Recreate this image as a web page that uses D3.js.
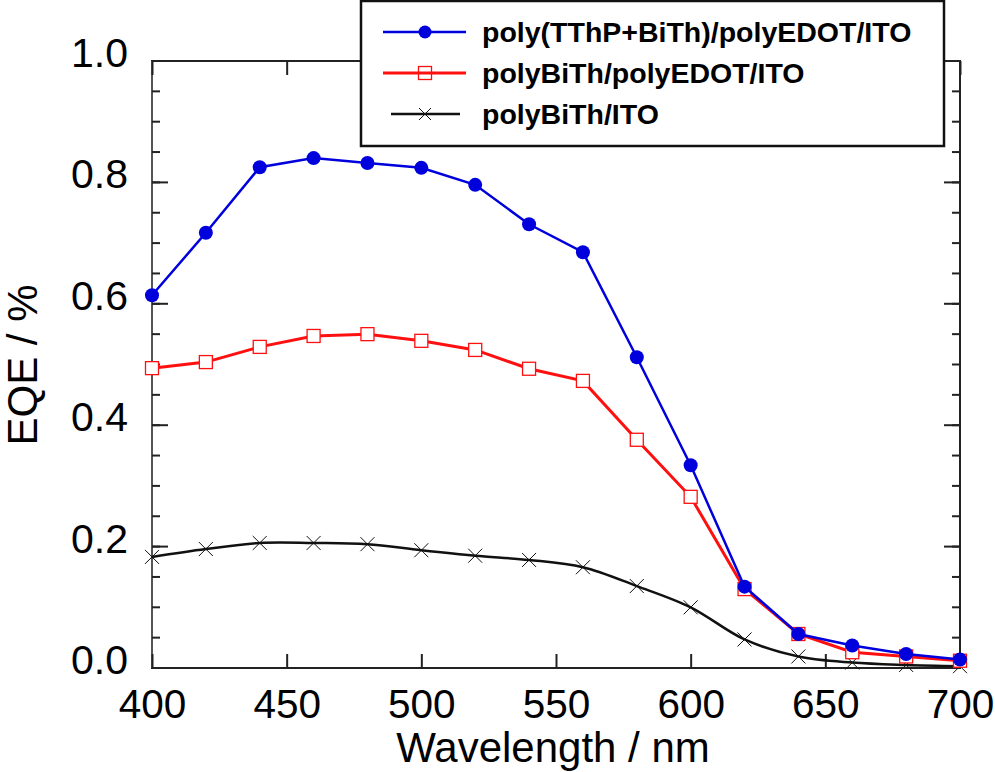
<!DOCTYPE html>
<html>
<head>
<meta charset="utf-8">
<script src="https://cdn.jsdelivr.net/npm/d3@7"></script>
<style>
  body { margin: 0; background: #fff; }
  svg { display: block; font-family: "Liberation Sans", Arial, sans-serif; }
</style>
</head>
<body>
<div id="chart"></div>
<script>
// wavelengths (nm)
let wavelength = [400, 420, 440, 460, 480, 500, 520, 540, 560, 580, 600, 620, 640, 660, 680, 700];

// EQE values
let eqeBlend = [0.614, 0.717, 0.825, 0.840, 0.832, 0.824, 0.796, 0.731, 0.685, 0.512, 0.334, 0.134, 0.056, 0.037, 0.023, 0.014];
let eqeBiThEdot = [0.494, 0.504, 0.529, 0.547, 0.550, 0.539, 0.524, 0.493, 0.473, 0.376, 0.282, 0.130, 0.056, 0.026, 0.019, 0.012];
let eqeBiTh = [0.183, 0.196, 0.206, 0.206, 0.204, 0.194, 0.185, 0.178, 0.166, 0.135, 0.100, 0.047, 0.019, 0.009, 0.005, 0.003];

let seriesNames = ["poly(TThP+BiTh)/polyEDOT/ITO", "polyBiTh/polyEDOT/ITO", "polyBiTh/ITO"];

let xTicks = [400, 450, 500, 550, 600, 650, 700];
let yTicks = [0.0, 0.2, 0.4, 0.6, 0.8, 1.0];
let yMinorTicks = d3.range(0, 1.0001, 0.05);

let width = 995;
let height = 772;
let plotLeft = 152, plotRight = 960, plotTop = 61, plotBottom = 668;

let svg = d3.select("#chart")
    .append("svg")
    .attr("width", width)
    .attr("height", height);

let xScale = d3.scaleLinear().domain([400, 700]).range([plotLeft, plotRight]);
let yScale = d3.scaleLinear().domain([0, 1]).range([plotBottom, plotTop]);

// frame
svg.append("rect")
    .attr("x", plotLeft).attr("y", plotTop)
    .attr("width", plotRight - plotLeft).attr("height", plotBottom - plotTop)
    .attr("fill", "none").attr("stroke", "#222").attr("stroke-width", 2);
// left axis line is a bit greyer in the original
svg.append("line")
    .attr("x1", plotLeft).attr("x2", plotLeft).attr("y1", plotTop).attr("y2", plotBottom)
    .attr("stroke", "#555").attr("stroke-width", 2);

// x ticks, inward, bottom and top
let xAxisBottom = d3.axisBottom(xScale).tickValues(xTicks).tickSize(-14).tickFormat(d3.format("d"));
let gx = svg.append("g")
    .attr("transform", "translate(0," + plotBottom + ")")
    .call(xAxisBottom);
gx.select(".domain").remove();
gx.selectAll(".tick line").attr("stroke", "#222").attr("stroke-width", 2);
gx.selectAll(".tick text").attr("font-size", 40.5).attr("fill", "#000").attr("font-family", "Liberation Sans, Arial, sans-serif")
    .attr("y", 50).attr("dy", 0);

let gxTop = svg.append("g")
    .attr("transform", "translate(0," + plotTop + ")")
    .call(d3.axisTop(xScale).tickValues(xTicks).tickSize(-14).tickFormat(""));
gxTop.select(".domain").remove();
gxTop.selectAll(".tick line").attr("stroke", "#222").attr("stroke-width", 2);

// y ticks: minor then major, left and right
function yTicksSide(x, dir) {
    let g = svg.append("g");
    g.selectAll("line.minor")
        .data(yMinorTicks)
        .enter().append("line")
        .attr("class", "minor")
        .attr("x1", x).attr("x2", x + dir * 8)
        .attr("y1", d => yScale(d)).attr("y2", d => yScale(d))
        .attr("stroke", "#222").attr("stroke-width", 2);
    g.selectAll("line.major")
        .data(yTicks)
        .enter().append("line")
        .attr("class", "major")
        .attr("x1", x).attr("x2", x + dir * 16)
        .attr("y1", d => yScale(d)).attr("y2", d => yScale(d))
        .attr("stroke", "#222").attr("stroke-width", 2);
}
yTicksSide(plotLeft, 1);
yTicksSide(plotRight, -1);

svg.append("g").selectAll("text")
    .data(yTicks)
    .enter().append("text")
    .attr("x", 128)
    .attr("y", d => yScale(d) + 6)
    .attr("text-anchor", "end")
    .attr("font-size", 41)
    .text(d => d3.format(".1f")(d));

// axis labels
svg.append("text")
    .attr("x", 553).attr("y", 762)
    .attr("text-anchor", "middle")
    .attr("font-size", 42)
    .text("Wavelength / nm");

svg.append("text")
    .attr("transform", "translate(37,365) rotate(-90)")
    .attr("text-anchor", "middle")
    .attr("font-size", 42)
    .text("EQE / %");

// series
let blue = "#0000dd", red = "#ff1010", black = "#111";

let lineStraight = d3.line()
    .x((d, i) => xScale(wavelength[i]))
    .y(d => yScale(d));
let lineSmooth = d3.line()
    .x((d, i) => xScale(wavelength[i]))
    .y(d => yScale(d))
    .curve(d3.curveCatmullRom.alpha(0.5));

// black (smoothed)
svg.append("path").datum(eqeBiTh)
    .attr("d", lineSmooth).attr("fill", "none")
    .attr("stroke", black).attr("stroke-width", 2.5);
function drawCross(g, cx, cy, s) {
    g.append("line").attr("x1", cx - s).attr("y1", cy - s).attr("x2", cx + s).attr("y2", cy + s)
        .attr("stroke", black).attr("stroke-width", 1);
    g.append("line").attr("x1", cx - s).attr("y1", cy + s).attr("x2", cx + s).attr("y2", cy - s)
        .attr("stroke", black).attr("stroke-width", 1);
}
let gCross = svg.append("g");
eqeBiTh.forEach((d, i) => drawCross(gCross, xScale(wavelength[i]), yScale(d), 7));

// red
svg.append("path").datum(eqeBiThEdot)
    .attr("d", lineStraight).attr("fill", "none")
    .attr("stroke", red).attr("stroke-width", 3);
svg.append("g").selectAll("rect")
    .data(eqeBiThEdot)
    .enter().append("rect")
    .attr("x", (d, i) => xScale(wavelength[i]) - 6.5)
    .attr("y", d => yScale(d) - 6.5)
    .attr("width", 13).attr("height", 13)
    .attr("fill", "#fff").attr("stroke", red).attr("stroke-width", 1.3);

// blue
svg.append("path").datum(eqeBlend)
    .attr("d", lineStraight).attr("fill", "none")
    .attr("stroke", blue).attr("stroke-width", 2.5);
svg.append("g").selectAll("circle")
    .data(eqeBlend)
    .enter().append("circle")
    .attr("cx", (d, i) => xScale(wavelength[i]))
    .attr("cy", d => yScale(d))
    .attr("r", 7)
    .attr("fill", blue);

// legend
let lg = svg.append("g");
lg.append("rect")
    .attr("x", 361).attr("y", 1)
    .attr("width", 583).attr("height", 145)
    .attr("fill", "#fff").attr("stroke", "#111").attr("stroke-width", 2.5);

let legendY = [32, 73, 114];
// blue entry
lg.append("line").attr("x1", 383).attr("x2", 466).attr("y1", legendY[0]).attr("y2", legendY[0])
    .attr("stroke", blue).attr("stroke-width", 2.5);
lg.append("circle").attr("cx", 425).attr("cy", legendY[0]).attr("r", 6.5).attr("fill", blue);
// red entry
lg.append("line").attr("x1", 383).attr("x2", 466).attr("y1", legendY[1]).attr("y2", legendY[1])
    .attr("stroke", red).attr("stroke-width", 3);
lg.append("rect").attr("x", 418.5).attr("y", legendY[1] - 6.5).attr("width", 13).attr("height", 13)
    .attr("fill", "none").attr("stroke", red).attr("stroke-width", 1.3);
// black entry
lg.append("line").attr("x1", 391).attr("x2", 460).attr("y1", legendY[2]).attr("y2", legendY[2])
    .attr("stroke", black).attr("stroke-width", 2.5);
drawCross(lg, 425, legendY[2], 6);

lg.selectAll("text")
    .data(seriesNames)
    .enter().append("text")
    .attr("x", 482)
    .attr("y", (d, i) => legendY[i] + 10)
    .attr("font-size", 28.5)
    .attr("font-weight", "bold")
    .text(d => d);
</script>
</body>
</html>
